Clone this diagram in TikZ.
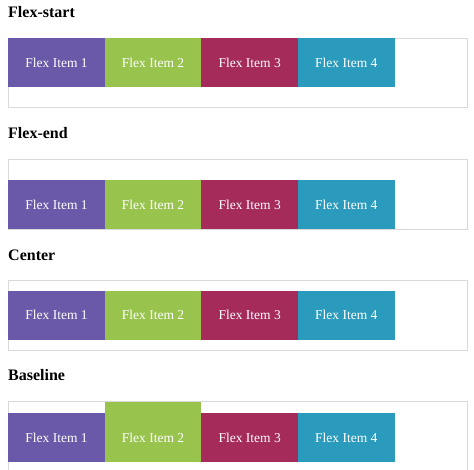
\documentclass[tikz,border=0pt]{standalone}
\usepackage{fontspec}
\setmainfont{Liberation Serif}
\definecolor{cpurple}{HTML}{6A59A8}
\definecolor{cgreen}{HTML}{98C34D}
\definecolor{cmagenta}{HTML}{A52B5B}
\definecolor{cteal}{HTML}{2A9BBC}
\definecolor{cborder}{HTML}{D9D9D9}
\tikzset{
  title/.style={anchor=base west, inner sep=0pt, font=\fontsize{16}{18}\selectfont\bfseries},
  box/.style={draw=cborder, line width=1pt},
  item/.style={anchor=north west, inner sep=0pt, minimum width=96.6pt, minimum height=49pt,
    text=white, font=\fontsize{13.5}{15}\selectfont},
}
\begin{document}
\begin{tikzpicture}[x=1pt,y=-1pt]
\useasboundingbox (0,0) rectangle (474,469);
% Flex-start
\node[title] (t1) at (8,17.5) {Flex-start};
\draw[box] (8.5,38.5) rectangle (467.5,107);
\node[item, fill=cpurple] (a1) at (8,38) {Flex Item 1};
\node[item, fill=cgreen] (a2) at (104.6,38) {Flex Item 2};
\node[item, fill=cmagenta] (a3) at (201.2,38) {Flex Item 3};
\node[item, fill=cteal] (a4) at (297.8,38) {Flex Item 4};
% Flex-end
\node[title] (t2) at (8,138) {Flex-end};
\draw[box] (8.5,159.5) rectangle (467.5,229);
\node[item, fill=cpurple] (b1) at (8,180) {Flex Item 1};
\node[item, fill=cgreen] (b2) at (104.6,180) {Flex Item 2};
\node[item, fill=cmagenta] (b3) at (201.2,180) {Flex Item 3};
\node[item, fill=cteal] (b4) at (297.8,180) {Flex Item 4};
% Center
\node[title] (t3) at (8,260) {Center};
\draw[box] (8.5,280.5) rectangle (467.5,350);
\node[item, fill=cpurple] (c1) at (8,290.5) {Flex Item 1};
\node[item, fill=cgreen] (c2) at (104.6,290.5) {Flex Item 2};
\node[item, fill=cmagenta] (c3) at (201.2,290.5) {Flex Item 3};
\node[item, fill=cteal] (c4) at (297.8,290.5) {Flex Item 4};
% Baseline
\node[title] (t4) at (8,380.5) {Baseline};
\draw[box] (8.5,401.5) rectangle (467.5,480);
\fill[cgreen] (104.6,401.5) rectangle (201.2,414);
\node[item, fill=cpurple] (d1) at (8,413) {Flex Item 1};
\node[item, fill=cgreen] (d2) at (104.6,413) {Flex Item 2};
\node[item, fill=cmagenta] (d3) at (201.2,413) {Flex Item 3};
\node[item, fill=cteal] (d4) at (297.8,413) {Flex Item 4};
\end{tikzpicture}
\end{document}
